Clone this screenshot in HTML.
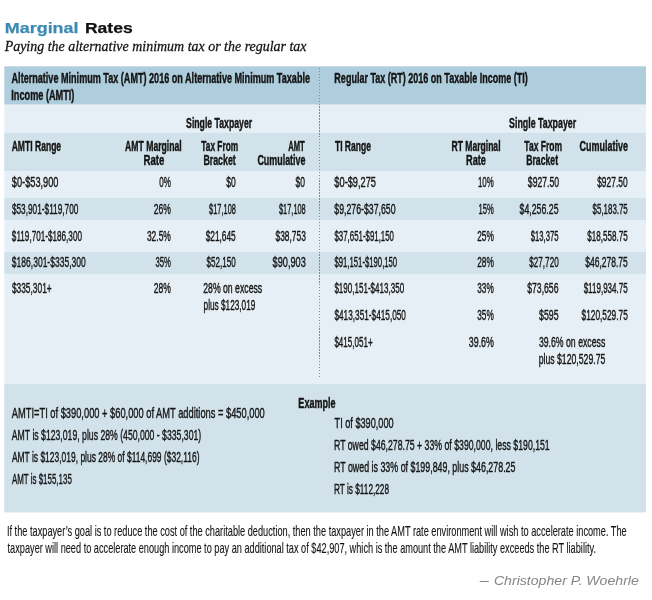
<!DOCTYPE html>
<html><head><meta charset="utf-8"><title>Marginal Rates</title>
<style>
html,body{margin:0;padding:0;background:#fff;}
body{width:652px;height:600px;position:relative;overflow:hidden;font-family:"Liberation Sans",sans-serif;}
.bg{position:absolute;left:0;top:0;}
.t{position:absolute;left:0;top:0;white-space:nowrap;line-height:20px;height:20px;transform-origin:0 0;display:block;-webkit-text-stroke:0.4px currentColor;}
.dot{position:absolute;left:319.1px;top:68.3px;width:1.2px;height:309.3px;background-image:repeating-linear-gradient(to bottom,#559abd 0,#559abd 1.4px,transparent 1.4px,transparent 2.96px);}
#wrap{position:absolute;left:0;top:0;width:652px;height:600px;will-change:transform;}
</style></head><body>
<svg class="bg" width="652" height="600" viewBox="0 0 652 600">
<rect class="r" x="4.4" y="66.4" width="641.6" height="445.9" fill="#e6eff5"/>
<rect class="r" x="4.4" y="66.4" width="641.6" height="38" fill="#afcedd"/>
<rect class="r" x="4.4" y="132.8" width="641.6" height="38.2" fill="#d1e2eb"/>
<rect class="r" x="4.4" y="198" width="641.6" height="22" fill="#d1e2eb"/>
<rect class="r" x="4.4" y="252" width="641.6" height="21.8" fill="#d1e2eb"/>
<rect class="r" x="4.4" y="384" width="641.6" height="128.3" fill="#d1e2eb"/>
</svg>
<div class="dot"></div>
<div id="wrap">
<span class="t" id="t0" style="font-size:15.5px;color:#3d8ab3;font-weight:bold;transform:translate(4.85px,18.00px) scaleX(1.1554);-webkit-text-stroke-width:0.25px;">Marginal</span>
<span class="t" id="t1" style="font-size:15.5px;color:#111;font-weight:bold;transform:translate(84.91px,18.00px) scaleX(1.1333);-webkit-text-stroke-width:0.25px;">Rates</span>
<span class="t" id="t2" style="font-size:15.5px;color:#111;font-style:italic;font-family:'Liberation Serif',serif;transform:translate(4.67px,36.00px) scaleX(0.9006);-webkit-text-stroke-width:0.28px;">Paying the alternative minimum tax or the regular tax</span>
<span class="t" id="t3" style="font-size:14.8px;color:#141414;font-weight:bold;transform:translate(11.55px,68.00px) scaleX(0.6135);-webkit-text-stroke-width:0.45px;">Alternative Minimum Tax (AMT) 2016 on Alternative Minimum Taxable</span>
<span class="t" id="t4" style="font-size:14.8px;color:#141414;font-weight:bold;transform:translate(11.31px,85.00px) scaleX(0.6187);-webkit-text-stroke-width:0.45px;">Income (AMTI)</span>
<span class="t" id="t5" style="font-size:14.8px;color:#141414;font-weight:bold;transform:translate(334.36px,68.00px) scaleX(0.6088);-webkit-text-stroke-width:0.45px;">Regular Tax (RT) 2016 on Taxable Income (TI)</span>
<span class="t" id="t6" style="font-size:14.8px;color:#141414;font-weight:bold;transform:translate(186.08px,113.00px) scaleX(0.5875);-webkit-text-stroke-width:0.45px;">Single Taxpayer</span>
<span class="t" id="t7" style="font-size:14.8px;color:#141414;font-weight:bold;transform:translate(509.08px,113.00px) scaleX(0.5969);-webkit-text-stroke-width:0.45px;">Single Taxpayer</span>
<span class="t" id="t8" style="font-size:14.8px;color:#141414;font-weight:bold;transform:translate(11.67px,136.00px) scaleX(0.5783);-webkit-text-stroke-width:0.45px;">AMTI Range</span>
<span class="t" id="t9" style="font-size:14.8px;color:#141414;font-weight:bold;transform:translate(125.10px,136.00px) scaleX(0.5841);-webkit-text-stroke-width:0.45px;">AMT Marginal</span>
<span class="t" id="t10" style="font-size:14.8px;color:#141414;font-weight:bold;transform:translate(143.55px,150.00px) scaleX(0.6504);-webkit-text-stroke-width:0.45px;">Rate</span>
<span class="t" id="t11" style="font-size:14.8px;color:#141414;font-weight:bold;transform:translate(201.37px,136.00px) scaleX(0.5605);-webkit-text-stroke-width:0.45px;">Tax From</span>
<span class="t" id="t12" style="font-size:14.8px;color:#141414;font-weight:bold;transform:translate(203.40px,150.00px) scaleX(0.5966);-webkit-text-stroke-width:0.45px;">Bracket</span>
<span class="t" id="t13" style="font-size:14.8px;color:#141414;font-weight:bold;transform:translate(288.16px,136.00px) scaleX(0.5163);-webkit-text-stroke-width:0.45px;">AMT</span>
<span class="t" id="t14" style="font-size:14.8px;color:#141414;font-weight:bold;transform:translate(257.41px,150.00px) scaleX(0.6026);-webkit-text-stroke-width:0.45px;">Cumulative</span>
<span class="t" id="t15" style="font-size:14.8px;color:#141414;font-weight:bold;transform:translate(334.91px,136.00px) scaleX(0.5771);-webkit-text-stroke-width:0.45px;">TI Range</span>
<span class="t" id="t16" style="font-size:14.8px;color:#141414;font-weight:bold;transform:translate(451.48px,136.00px) scaleX(0.5791);-webkit-text-stroke-width:0.45px;">RT Marginal</span>
<span class="t" id="t17" style="font-size:14.8px;color:#141414;font-weight:bold;transform:translate(466.04px,150.00px) scaleX(0.6219);-webkit-text-stroke-width:0.45px;">Rate</span>
<span class="t" id="t18" style="font-size:14.8px;color:#141414;font-weight:bold;transform:translate(524.37px,136.00px) scaleX(0.5760);-webkit-text-stroke-width:0.45px;">Tax From</span>
<span class="t" id="t19" style="font-size:14.8px;color:#141414;font-weight:bold;transform:translate(526.24px,150.00px) scaleX(0.5858);-webkit-text-stroke-width:0.45px;">Bracket</span>
<span class="t" id="t20" style="font-size:14.8px;color:#141414;font-weight:bold;transform:translate(579.51px,136.00px) scaleX(0.6073);-webkit-text-stroke-width:0.45px;">Cumulative</span>
<span class="t" id="t21" style="font-size:15px;color:#141414;transform:translate(11.84px,172.00px) scaleX(0.6139);">$0-$53,900</span>
<span class="t" id="t22" style="font-size:15px;color:#141414;transform:translate(159.34px,172.00px) scaleX(0.5372);">0%</span>
<span class="t" id="t23" style="font-size:15px;color:#141414;transform:translate(226.15px,172.00px) scaleX(0.5690);">$0</span>
<span class="t" id="t24" style="font-size:15px;color:#141414;transform:translate(295.59px,172.00px) scaleX(0.5668);">$0</span>
<span class="t" id="t25" style="font-size:15px;color:#141414;transform:translate(11.88px,199.00px) scaleX(0.5514);">$53,901-$119,700</span>
<span class="t" id="t26" style="font-size:15px;color:#141414;transform:translate(153.71px,199.00px) scaleX(0.5727);">26%</span>
<span class="t" id="t27" style="font-size:15px;color:#141414;transform:translate(209.10px,199.00px) scaleX(0.4938);">$17,108</span>
<span class="t" id="t28" style="font-size:15px;color:#141414;transform:translate(278.97px,199.00px) scaleX(0.4936);">$17,108</span>
<span class="t" id="t29" style="font-size:15px;color:#141414;transform:translate(11.87px,226.00px) scaleX(0.5433);">$119,701-$186,300</span>
<span class="t" id="t30" style="font-size:15px;color:#141414;transform:translate(146.89px,226.00px) scaleX(0.5630);">32.5%</span>
<span class="t" id="t31" style="font-size:15px;color:#141414;transform:translate(205.66px,226.00px) scaleX(0.5548);">$21,645</span>
<span class="t" id="t32" style="font-size:15px;color:#141414;transform:translate(275.49px,226.00px) scaleX(0.5595);">$38,753</span>
<span class="t" id="t33" style="font-size:15px;color:#141414;transform:translate(11.87px,252.00px) scaleX(0.5674);">$186,301-$335,300</span>
<span class="t" id="t34" style="font-size:15px;color:#141414;transform:translate(155.40px,252.00px) scaleX(0.5130);">35%</span>
<span class="t" id="t35" style="font-size:15px;color:#141414;transform:translate(206.45px,252.00px) scaleX(0.5380);">$52,150</span>
<span class="t" id="t36" style="font-size:15px;color:#141414;transform:translate(272.55px,252.00px) scaleX(0.6131);">$90,903</span>
<span class="t" id="t37" style="font-size:15px;color:#141414;transform:translate(11.88px,278.00px) scaleX(0.5586);">$335,301+</span>
<span class="t" id="t38" style="font-size:15px;color:#141414;transform:translate(153.71px,278.00px) scaleX(0.5727);">28%</span>
<span class="t" id="t39" style="font-size:15px;color:#141414;transform:translate(203.22px,278.00px) scaleX(0.5794);">28% on excess</span>
<span class="t" id="t40" style="font-size:15px;color:#141414;transform:translate(334.34px,172.00px) scaleX(0.6166);">$0-$9,275</span>
<span class="t" id="t41" style="font-size:15px;color:#141414;transform:translate(477.88px,172.00px) scaleX(0.5261);">10%</span>
<span class="t" id="t42" style="font-size:15px;color:#141414;transform:translate(527.86px,172.00px) scaleX(0.5748);">$927.50</span>
<span class="t" id="t43" style="font-size:15px;color:#141414;transform:translate(597.16px,172.00px) scaleX(0.5623);">$927.50</span>
<span class="t" id="t44" style="font-size:15px;color:#141414;transform:translate(334.37px,199.00px) scaleX(0.5818);">$9,276-$37,650</span>
<span class="t" id="t45" style="font-size:15px;color:#141414;transform:translate(478.42px,199.00px) scaleX(0.5077);">15%</span>
<span class="t" id="t46" style="font-size:15px;color:#141414;transform:translate(519.57px,199.00px) scaleX(0.5835);">$4,256.25</span>
<span class="t" id="t47" style="font-size:15px;color:#141414;transform:translate(592.60px,199.00px) scaleX(0.5269);">$5,183.75</span>
<span class="t" id="t48" style="font-size:15px;color:#141414;transform:translate(334.46px,226.00px) scaleX(0.5247);">$37,651-$91,150</span>
<span class="t" id="t49" style="font-size:15px;color:#141414;transform:translate(477.16px,226.00px) scaleX(0.5557);">25%</span>
<span class="t" id="t50" style="font-size:15px;color:#141414;transform:translate(530.70px,226.00px) scaleX(0.5120);">$13,375</span>
<span class="t" id="t51" style="font-size:15px;color:#141414;transform:translate(587.30px,226.00px) scaleX(0.5391);">$18,558.75</span>
<span class="t" id="t52" style="font-size:15px;color:#141414;transform:translate(334.49px,252.00px) scaleX(0.5146);">$91,151-$190,150</span>
<span class="t" id="t53" style="font-size:15px;color:#141414;transform:translate(477.16px,252.00px) scaleX(0.5557);">28%</span>
<span class="t" id="t54" style="font-size:15px;color:#141414;transform:translate(529.30px,252.00px) scaleX(0.5420);">$27,720</span>
<span class="t" id="t55" style="font-size:15px;color:#141414;transform:translate(585.29px,252.00px) scaleX(0.5654);">$46,278.75</span>
<span class="t" id="t56" style="font-size:15px;color:#141414;transform:translate(334.38px,278.00px) scaleX(0.5363);">$190,151-$413,350</span>
<span class="t" id="t57" style="font-size:15px;color:#141414;transform:translate(477.19px,278.00px) scaleX(0.5511);">33%</span>
<span class="t" id="t58" style="font-size:15px;color:#141414;transform:translate(527.27px,278.00px) scaleX(0.5750);">$73,656</span>
<span class="t" id="t59" style="font-size:15px;color:#141414;transform:translate(583.63px,278.00px) scaleX(0.5357);">$119,934.75</span>
<span class="t" id="t60" style="font-size:15px;color:#141414;transform:translate(334.40px,305.00px) scaleX(0.5499);">$413,351-$415,050</span>
<span class="t" id="t61" style="font-size:15px;color:#141414;transform:translate(477.19px,305.00px) scaleX(0.5511);">35%</span>
<span class="t" id="t62" style="font-size:15px;color:#141414;transform:translate(539.03px,305.00px) scaleX(0.5838);">$595</span>
<span class="t" id="t63" style="font-size:15px;color:#141414;transform:translate(581.56px,305.00px) scaleX(0.5544);">$120,529.75</span>
<span class="t" id="t64" style="font-size:15px;color:#141414;transform:translate(334.38px,332.00px) scaleX(0.5365);">$415,051+</span>
<span class="t" id="t65" style="font-size:15px;color:#141414;transform:translate(468.79px,332.00px) scaleX(0.5906);">39.6%</span>
<span class="t" id="t66" style="font-size:15px;color:#141414;transform:translate(538.88px,332.00px) scaleX(0.5811);">39.6% on excess</span>
<span class="t" id="t67" style="font-size:15px;color:#141414;transform:translate(203.54px,295.00px) scaleX(0.5498);">plus $123,019</span>
<span class="t" id="t68" style="font-size:15px;color:#141414;transform:translate(538.64px,349.00px) scaleX(0.5792);">plus $120,529.75</span>
<span class="t" id="t69" style="font-size:14.8px;color:#141414;font-weight:bold;transform:translate(298.37px,393.00px) scaleX(0.6089);-webkit-text-stroke-width:0.45px;">Example</span>
<span class="t" id="t70" style="font-size:15px;color:#141414;transform:translate(11.84px,403.00px) scaleX(0.6201);">AMTI=TI of $390,000 + $60,000 of AMT additions = $450,000</span>
<span class="t" id="t71" style="font-size:15px;color:#141414;transform:translate(11.81px,425.00px) scaleX(0.5784);">AMT is $123,019, plus 28% (450,000 - $335,301)</span>
<span class="t" id="t72" style="font-size:15px;color:#141414;transform:translate(11.91px,447.00px) scaleX(0.5638);">AMT is $123,019, plus 28% of $114,699 ($32,116)</span>
<span class="t" id="t73" style="font-size:15px;color:#141414;transform:translate(11.91px,469.00px) scaleX(0.5297);">AMT is $155,135</span>
<span class="t" id="t74" style="font-size:15px;color:#141414;transform:translate(334.61px,413.00px) scaleX(0.6092);">TI of $390,000</span>
<span class="t" id="t75" style="font-size:15px;color:#141414;transform:translate(334.03px,435.00px) scaleX(0.5814);">RT owed $46,278.75 + 33% of $390,000, less $190,151</span>
<span class="t" id="t76" style="font-size:15px;color:#141414;transform:translate(333.97px,457.00px) scaleX(0.5908);">RT owed is 33% of $199,849, plus $46,278.25</span>
<span class="t" id="t77" style="font-size:15px;color:#141414;transform:translate(334.05px,479.00px) scaleX(0.5493);">RT is $112,228</span>
<span class="t" id="t78" style="font-size:15px;color:#141414;transform:translate(6.93px,521.00px) scaleX(0.6140);-webkit-text-stroke-width:0.12px;">If the taxpayer’s goal is to reduce the cost of the charitable deduction, then the taxpayer in the AMT rate environment will wish to accelerate income. The</span>
<span class="t" id="t79" style="font-size:15px;color:#141414;transform:translate(7.57px,538.00px) scaleX(0.6122);-webkit-text-stroke-width:0.12px;">taxpayer will need to accelerate enough income to pay an additional tax of $42,907, which is the amount the AMT liability exceeds the RT liability.</span>
<span class="t" id="t80" style="font-size:12.5px;color:#858585;font-style:italic;transform:translate(479.64px,571.00px) scaleX(0.7192);-webkit-text-stroke-width:0;">—</span>
<span class="t" id="t81" style="font-size:12.5px;color:#858585;font-style:italic;transform:translate(493.88px,571.00px) scaleX(1.1299);-webkit-text-stroke-width:0;">Christopher P. Woehrle</span>
</div>
</body></html>
